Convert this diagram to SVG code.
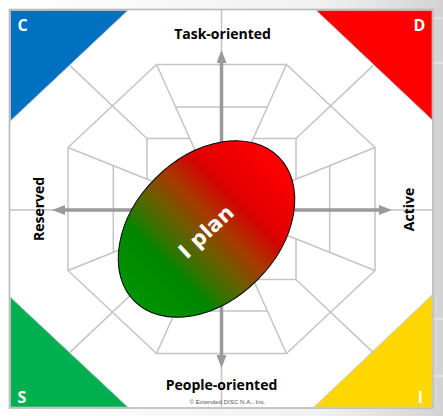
<svg xmlns="http://www.w3.org/2000/svg" width="443" height="416" viewBox="0 0 443 416">
<defs>
<linearGradient id="bg" x1="0" y1="0" x2="443" y2="0" gradientUnits="userSpaceOnUse">
<stop offset="0" stop-color="#ffffff"/>
<stop offset="0.72" stop-color="#f1f1f1"/>
<stop offset="1" stop-color="#d3d3d3"/>
</linearGradient>
<linearGradient id="eg" x1="0" y1="0" x2="1" y2="0">
<stop offset="0" stop-color="#009400"/>
<stop offset="0.24" stop-color="#008600"/>
<stop offset="0.31" stop-color="#2f7600"/>
<stop offset="0.43" stop-color="#6e5c00"/>
<stop offset="0.56" stop-color="#a93800"/>
<stop offset="0.69" stop-color="#d00600"/>
<stop offset="0.74" stop-color="#e40000"/>
<stop offset="1" stop-color="#ff0000"/>
</linearGradient>
<marker id="ah" viewBox="0 0 13 10" refX="0" refY="5" markerWidth="13" markerHeight="10" markerUnits="userSpaceOnUse" orient="auto-start-reverse">
<path d="M0,0 L13,5 L0,10 z" fill="#9a9a9a"/>
</marker>
<style>
.web{fill:none;stroke:#c4c4c4;stroke-width:1.5}
.axis{stroke:#9a9a9a;stroke-width:3.5;fill:none}
.lbl{font-family:"Open Sans","Liberation Sans",sans-serif;font-weight:bold;font-size:14px;fill:#000;text-anchor:middle}
.corner{font-family:"Open Sans","Liberation Sans",sans-serif;font-weight:bold;font-size:16px;fill:#fff;text-anchor:middle}
.tri{stroke:#c8c8c8;stroke-width:1}
</style>
</defs>
<rect x="0" y="0" width="443" height="416" fill="url(#bg)"/>
<g stroke="#e6e6e6" stroke-width="1.5">
<line x1="434" y1="18" x2="443" y2="18"/>
<line x1="434" y1="63" x2="443" y2="63"/>
<line x1="434" y1="319" x2="443" y2="319"/>
<line x1="434" y1="376" x2="443" y2="376"/>
</g>
<g id="frame">
<rect x="9.5" y="9.5" width="423.5" height="398.5" fill="#ffffff" stroke="#b8b8b8" stroke-width="1.6"/>
</g>
<g id="quadrant-C">
<polygon class="tri" points="10.3,10.3 128,10.3 10.3,121" fill="#0070c0"/>
<text class="corner" x="22.5" y="30.5">C</text>
</g>
<g id="quadrant-D">
<polygon class="tri" points="316,10.3 432.2,10.3 432.2,120" fill="#ff0000"/>
<text class="corner" x="419.5" y="30.5">D</text>
</g>
<g id="quadrant-S">
<polygon class="tri" points="10.3,297 10.3,407.2 128,407.2" fill="#00b050"/>
<text class="corner" x="22" y="403">S</text>
</g>
<g id="quadrant-I">
<polygon class="tri" points="432.2,295 432.2,407.2 314,407.2" fill="#ffd700"/>
<text class="corner" x="420.5" y="403">I</text>
</g>
<g id="web">
<polygon class="web" points="156.5,64.5 286.5,64.5 375,147.5 375,270.5 286.5,353.5 156.5,353.5 68,270.5 68,147.5"/>
<path class="web" d="M221.5,209 L156.5,64.5 M221.5,209 L286.5,64.5 M221.5,209 L375,147.5 M221.5,209 L375,270.5 M221.5,209 L286.5,353.5 M221.5,209 L156.5,353.5 M221.5,209 L68,270.5 M221.5,209 L68,147.5"/>
<path class="web" d="M175.7,107.1 H267.3 M175.7,310.9 H267.3 M113.3,165.6 V252.4 M329.7,165.6 V252.4"/>
<path class="web" d="M189.8,138.5 H147 V179.2 M253.2,138.5 H296 V179.2 M189.8,279.5 H147 V238.8 M253.2,279.5 H296 V238.8"/>
<path class="web" d="M69.4,65.1 L147,138.5 M373.6,65.1 L296,138.5 M69.4,352.9 L147,279.5 M373.6,352.9 L296,279.5"/>
<path class="web" d="M221.5,10 V408 M10,210 H433"/>
</g>
<g id="connectors">
<line class="axis" x1="221.5" y1="63" x2="221.5" y2="355" marker-start="url(#ah)" marker-end="url(#ah)"/>
<line class="axis" x1="65" y1="210" x2="379" y2="210" marker-start="url(#ah)" marker-end="url(#ah)"/>
</g>
<g id="labels">
<text class="lbl" x="222.5" y="38.5">Task-oriented</text>
<text class="lbl" x="221.5" y="389.5">People-oriented</text>
<text class="lbl" transform="translate(43.5,209) rotate(-90)">Reserved</text>
<text class="lbl" transform="translate(413.5,209.5) rotate(-90)">Active</text>
<text x="227.5" y="404" font-family="Liberation Sans, sans-serif" font-size="6.2" fill="#555555" text-anchor="middle">© Extended DISC N.A., Inc.</text>
</g>
<g id="node-iplan">
<ellipse cx="0" cy="0" rx="102" ry="72" transform="translate(206.5,229) rotate(-45)" fill="url(#eg)" stroke="#000000" stroke-width="1"/>
<text transform="translate(211,237) rotate(-43)" font-family="DejaVu Sans, sans-serif" font-weight="bold" font-size="21" fill="#ffffff" text-anchor="middle">I plan</text>
</g>
</svg>
